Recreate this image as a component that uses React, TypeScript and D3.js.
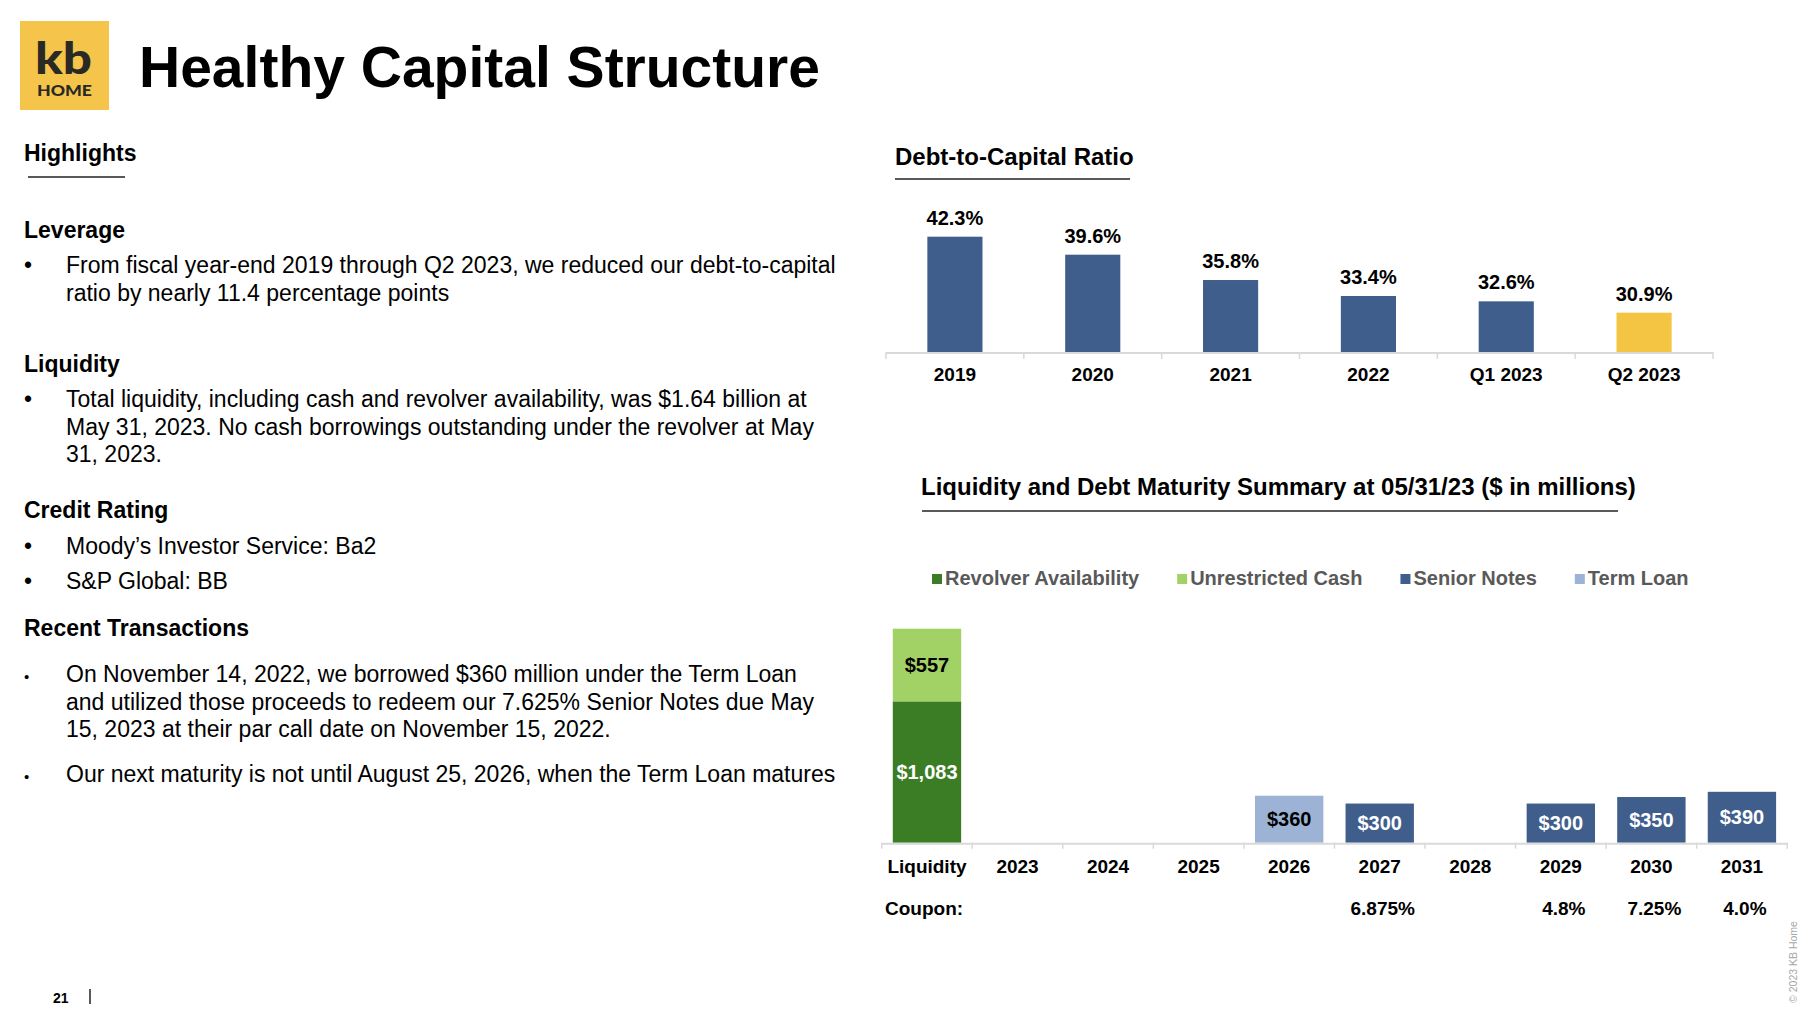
import { useEffect, useRef } from 'react';
import * as d3 from 'd3';

// Debt-to-capital ratio (%)
const ratioCategories = ['2019', '2020', '2021', '2022', 'Q1 2023', 'Q2 2023'];
const ratioValues = [42.3, 39.6, 35.8, 33.4, 32.6, 30.9];

// Liquidity and debt maturity ($ in millions)
const maturityCategories = ['Liquidity', '2023', '2024', '2025', '2026', '2027', '2028', '2029', '2030', '2031'];
const revolverAvailability = [1083, 0, 0, 0, 0, 0, 0, 0, 0, 0];
const unrestrictedCash = [557, 0, 0, 0, 0, 0, 0, 0, 0, 0];
const seniorNotes = [0, 0, 0, 0, 0, 300, 0, 300, 350, 390];
const termLoan = [0, 0, 0, 0, 360, 0, 0, 0, 0, 0];
const coupons = ['', '', '', '', '', '6.875%', '', '4.8%', '7.25%', '4.0%'];

const seriesKeys = ['revolver', 'cash', 'senior', 'term'];
const seriesLabels = ['Revolver Availability', 'Unrestricted Cash', 'Senior Notes', 'Term Loan'];
const seriesColors = ['#3A7D24', '#A2D165', '#3F5E8C', '#9CB3D6'];
const seriesTextColors = ['#FFFFFF', '#000000', '#FFFFFF', '#000000'];

const FONT = '"Liberation Sans", Arial, Helvetica, sans-serif';
const NAVY = '#3F5E8C';
const YELLOW = '#F4C443';
const AXIS = '#D9D9D9';

type Bullet = { lines: string[]; y: number; small?: boolean };
type Section = { heading: string; y: number; bullets: Bullet[] };

const sections: Section[] = [
  {
    heading: 'Leverage', y: 238,
    bullets: [{ y: 273, lines: [
      'From fiscal year-end 2019 through Q2 2023, we reduced our debt-to-capital',
      'ratio by nearly 11.4 percentage points',
    ] }],
  },
  {
    heading: 'Liquidity', y: 372,
    bullets: [{ y: 407, lines: [
      'Total liquidity, including cash and revolver availability, was $1.64 billion at',
      'May 31, 2023. No cash borrowings outstanding under the revolver at May',
      '31, 2023.',
    ] }],
  },
  {
    heading: 'Credit Rating', y: 518,
    bullets: [
      { y: 554, lines: ['Moody\u2019s Investor Service: Ba2'] },
      { y: 589, lines: ['S&P Global: BB'] },
    ],
  },
  {
    heading: 'Recent Transactions', y: 636,
    bullets: [
      { y: 682, small: true, lines: [
        'On November 14, 2022, we borrowed $360 million under the Term Loan',
        'and utilized those proceeds to redeem our 7.625% Senior Notes due May',
        '15, 2023 at their par call date on November 15, 2022.',
      ] },
      { y: 782, small: true, lines: ['Our next maturity is not until August 25, 2026, when the Term Loan matures'] },
    ],
  },
];

const App = () => {
  const svgRef = useRef<SVGSVGElement>(null);

  useEffect(() => {
    document.body.style.margin = '0';
    if (!svgRef.current) return;
    const svg = d3.select(svgRef.current);
    svg.selectAll('*').remove();

    svg.append('rect').attr('width', 1818).attr('height', 1022).attr('fill', '#fff');

    // Logo
    const logo = svg.append('g');
    logo.append('rect').attr('x', 20).attr('y', 21).attr('width', 89).attr('height', 89).attr('fill', '#F5C54B');
    logo.append('text').attr('x', 35).attr('y', 74)
      .attr('textLength', 57).attr('lengthAdjust', 'spacingAndGlyphs')
      .style('font-family', 'Lato, "Open Sans", sans-serif').style('font-weight', 900)
      .style('font-size', '44px').style('fill', '#2A2A24').text('kb');
    logo.append('text').attr('x', 37).attr('y', 96)
      .attr('textLength', 55).attr('lengthAdjust', 'spacingAndGlyphs')
      .style('font-family', 'Lato, "Open Sans", sans-serif').style('font-weight', 900)
      .style('font-size', '15px').style('fill', '#2A2A24').text('HOME');

    // Page title
    svg.append('text').attr('x', 139).attr('y', 87)
      .style('font-family', FONT).style('font-weight', 700).style('font-size', '57px')
      .style('fill', '#000').text('Healthy Capital Structure');

    // Left column
    const left = svg.append('g').style('font-family', FONT).style('fill', '#000');
    left.append('text').attr('x', 24).attr('y', 161)
      .style('font-weight', 700).style('font-size', '23px').text('Highlights');
    left.append('line').attr('x1', 28).attr('x2', 125).attr('y1', 177).attr('y2', 177)
      .attr('stroke', '#595959').attr('stroke-width', 2);

    const lineHeight = 27.6;
    sections.forEach(sec => {
      left.append('text').attr('x', 24).attr('y', sec.y)
        .style('font-weight', 700).style('font-size', '23px').text(sec.heading);
      sec.bullets.forEach(b => {
        left.append('text').attr('x', 24).attr('y', b.y)
          .style('font-size', b.small ? '15px' : '23px').text('\u2022');
        b.lines.forEach((line, i) => {
          left.append('text').attr('x', 66).attr('y', b.y + i * lineHeight)
            .style('font-size', '23px').text(line);
        });
      });
    });

    // Footer
    svg.append('text').attr('x', 53).attr('y', 1003)
      .style('font-family', FONT).style('font-weight', 700).style('font-size', '14px').text('21');
    svg.append('line').attr('x1', 90).attr('x2', 90).attr('y1', 989).attr('y2', 1004)
      .attr('stroke', '#222').attr('stroke-width', 1.5);
    svg.append('text').attr('transform', 'translate(1797,962) rotate(-90)')
      .attr('text-anchor', 'middle')
      .style('font-family', FONT).style('font-size', '10.5px').style('fill', '#A6A6A6')
      .text('\u00A9 2023 KB Home');

    // ---- Debt-to-Capital Ratio ----
    const c1 = svg.append('g').style('font-family', FONT);
    c1.append('text').attr('x', 895).attr('y', 165)
      .style('font-weight', 700).style('font-size', '24px').style('fill', '#000')
      .text('Debt-to-Capital Ratio');
    c1.append('line').attr('x1', 895).attr('x2', 1130).attr('y1', 179).attr('y2', 179)
      .attr('stroke', '#595959').attr('stroke-width', 2);

    const x1 = d3.scaleBand<string>().domain(ratioCategories).range([886, 1713])
      .paddingInner(0.6).paddingOuter(0.3);
    const y1 = d3.scaleLinear().domain([25, 45]).range([352, 218.7]);
    const base1 = y1(25);

    c1.selectAll('rect.bar').data(ratioValues).enter().append('rect')
      .attr('class', 'bar')
      .attr('x', (_, i) => x1(ratioCategories[i]) as number)
      .attr('width', x1.bandwidth())
      .attr('y', d => y1(d))
      .attr('height', d => base1 - y1(d))
      .attr('fill', (_, i) => (i === ratioValues.length - 1 ? YELLOW : NAVY));

    c1.selectAll('text.val').data(ratioValues).enter().append('text')
      .attr('class', 'val')
      .attr('x', (_, i) => (x1(ratioCategories[i]) as number) + x1.bandwidth() / 2)
      .attr('y', d => y1(d) - 12)
      .attr('text-anchor', 'middle')
      .style('font-weight', 700).style('font-size', '20px').style('fill', '#000')
      .text(d => `${d.toFixed(1)}%`);

    const [r1a, r1b] = x1.range();
    c1.append('line').attr('x1', r1a).attr('x2', r1b).attr('y1', base1 + 1).attr('y2', base1 + 1)
      .attr('stroke', AXIS).attr('stroke-width', 2);
    d3.range(ratioCategories.length + 1).forEach(i => {
      const tx = r1a + i * x1.step();
      c1.append('line').attr('x1', tx).attr('x2', tx).attr('y1', base1).attr('y2', base1 + 7)
        .attr('stroke', AXIS).attr('stroke-width', 1.5);
    });
    c1.selectAll('text.cat').data(ratioCategories).enter().append('text')
      .attr('class', 'cat')
      .attr('x', d => (x1(d) as number) + x1.bandwidth() / 2)
      .attr('y', 381)
      .attr('text-anchor', 'middle')
      .style('font-weight', 700).style('font-size', '19px').style('fill', '#000')
      .text(d => d);

    // ---- Liquidity and Debt Maturity ----
    const c2 = svg.append('g').style('font-family', FONT);
    c2.append('text').attr('x', 921).attr('y', 495)
      .style('font-weight', 700).style('font-size', '24px').style('fill', '#000')
      .text('Liquidity and Debt Maturity Summary at 05/31/23 ($ in millions)');
    c2.append('line').attr('x1', 922).attr('x2', 1618).attr('y1', 511).attr('y2', 511)
      .attr('stroke', '#595959').attr('stroke-width', 2);

    // legend
    let lx = 932;
    seriesLabels.forEach((lab, i) => {
      c2.append('rect').attr('x', lx).attr('y', 574).attr('width', 10).attr('height', 10)
        .attr('fill', seriesColors[i]);
      const t = c2.append('text').attr('x', lx + 13).attr('y', 585)
        .style('font-weight', 700).style('font-size', '20px').style('fill', '#595959')
        .text(lab);
      const w = (t.node() as SVGTextElement).getComputedTextLength();
      lx += 13 + w + 38;
    });

    const rows = maturityCategories.map((cat, i) => ({
      cat,
      revolver: revolverAvailability[i],
      cash: unrestrictedCash[i],
      senior: seniorNotes[i],
      term: termLoan[i],
    }));
    const stacked = d3.stack<any>().keys(seriesKeys)(rows);

    const x2 = d3.scaleBand<string>().domain(maturityCategories).range([881.7, 1787.2])
      .paddingInner(0.245).paddingOuter(0.1225);
    const y2 = d3.scaleLinear().domain([0, 1800]).range([842.7, 607.8]);
    const base2 = y2(0);

    stacked.forEach((layer, si) => {
      layer.forEach((seg, ci) => {
        const v = seg[1] - seg[0];
        if (v <= 0) return;
        const bx = x2(maturityCategories[ci]) as number;
        c2.append('rect')
          .attr('x', bx).attr('width', x2.bandwidth())
          .attr('y', y2(seg[1])).attr('height', y2(seg[0]) - y2(seg[1]))
          .attr('fill', seriesColors[si]);
        c2.append('text')
          .attr('x', bx + x2.bandwidth() / 2)
          .attr('y', (y2(seg[0]) + y2(seg[1])) / 2)
          .attr('dy', '0.35em')
          .attr('text-anchor', 'middle')
          .style('font-weight', 700).style('font-size', '20px')
          .style('fill', seriesTextColors[si])
          .text(`$${d3.format(',')(v)}`);
      });
    });

    const [r2a, r2b] = x2.range();
    c2.append('line').attr('x1', r2a).attr('x2', r2b).attr('y1', base2 + 1).attr('y2', base2 + 1)
      .attr('stroke', AXIS).attr('stroke-width', 2);
    d3.range(maturityCategories.length + 1).forEach(i => {
      const tx = r2a + i * x2.step();
      c2.append('line').attr('x1', tx).attr('x2', tx).attr('y1', base2).attr('y2', base2 + 6)
        .attr('stroke', AXIS).attr('stroke-width', 1.5);
    });
    c2.selectAll('text.cat').data(maturityCategories).enter().append('text')
      .attr('class', 'cat')
      .attr('x', d => (x2(d) as number) + x2.bandwidth() / 2)
      .attr('y', 873)
      .attr('text-anchor', 'middle')
      .style('font-weight', 700).style('font-size', '19px').style('fill', '#000')
      .text(d => d);

    c2.append('text').attr('x', 885).attr('y', 915)
      .style('font-weight', 700).style('font-size', '19px').style('fill', '#000')
      .text('Coupon:');
    c2.selectAll('text.coupon').data(coupons).enter().append('text')
      .attr('class', 'coupon')
      .attr('x', (_, i) => (x2(maturityCategories[i]) as number) + x2.bandwidth() / 2 + 3)
      .attr('y', 915)
      .attr('text-anchor', 'middle')
      .style('font-weight', 700).style('font-size', '19px').style('fill', '#000')
      .text(d => d);
  }, []);

  return (
    <svg ref={svgRef} width={1818} height={1022} style={{ display: 'block' }} />
  );
};

export default App;
